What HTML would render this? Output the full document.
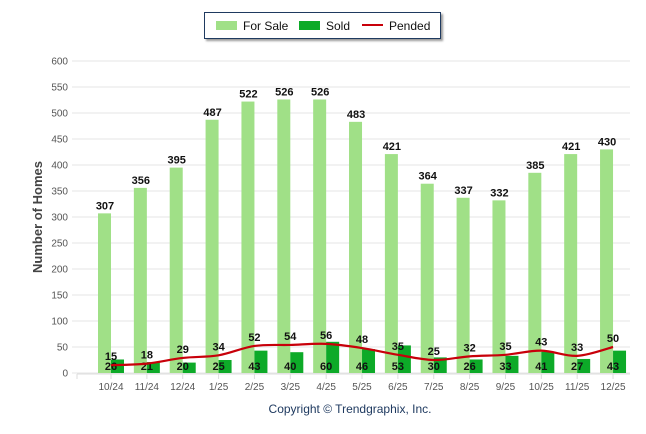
<!DOCTYPE html>
<html><head><meta charset="utf-8"><style>
body{margin:0;background:#fff;width:646px;height:434px;overflow:hidden;font-family:"Liberation Sans",Arial,sans-serif}
</style></head><body>
<svg id="c" width="646" height="434" style="position:absolute;left:0;top:0"></svg>
<script>
const categories=["10/24","11/24","12/24","1/25","2/25","3/25","4/25","5/25","6/25","7/25","8/25","9/25","10/25","11/25","12/25"];
const forSale=[307,356,395,487,522,526,526,483,421,364,337,332,385,421,430];
const sold=[26,21,20,25,43,40,60,46,53,30,26,33,41,27,43];
const pended=[15,18,29,34,52,54,56,48,35,25,32,35,43,33,50];
const yTicks=[0,50,100,150,200,250,300,350,400,450,500,550,600];
const NS="http://www.w3.org/2000/svg";
const svg=document.getElementById('c');
function y(v){return 373-v*0.52;}
function x(i){return 111+i*35.86;}
function mk(t,a,p){const e=document.createElementNS(NS,t);for(const k in a)e.setAttribute(k,a[k]);(p||svg).appendChild(e);return e;}
yTicks.forEach(v=>{
 const g=mk('line',{x1:72,x2:630,y1:y(v),y2:y(v),stroke:'#e6e6e6','stroke-width':1});
 
 
 const t=mk('text',{x:68,y:y(v)+3.5,'text-anchor':'end','font-size':10,fill:'#555'});
 t.textContent=v;
 
 
});
mk('line',{x1:77,x2:630,y1:374,y2:374,stroke:'#ddd'});
const yt=mk('text',{x:0,y:0,transform:'translate(42,217) rotate(-90)','text-anchor':'middle','font-size':13,'font-weight':'bold',fill:'#444'});
yt.textContent='Number of Homes';


categories.forEach((c,i)=>{
 const cx=x(i);
 const b=mk('rect',{x:cx-13,y:y(forSale[i]),width:13,height:373-y(forSale[i]),fill:'#a0e087'});
 
 
 const s=mk('rect',{x:cx,y:y(sold[i]),width:13,height:373-y(sold[i]),fill:'#0daa28'});
 
 
 const t=mk('text',{x:cx-6,y:y(forSale[i])-4,'text-anchor':'middle','font-size':11,'font-weight':'bold',fill:'#111'});
 t.textContent=forSale[i];
 
 
 const t2=mk('text',{x:cx,y:370,'text-anchor':'middle','font-size':11,'font-weight':'bold',fill:'#111'});
 t2.textContent=sold[i];
 
 
 const l=mk('text',{x:cx,y:390,'text-anchor':'middle','font-size':10,fill:'#555'});
 l.textContent=c;
 
 
 mk('line',{x1:cx,x2:cx,y1:374,y2:379,stroke:'#ddd'});
});
mk('line',{x1:77,x2:77,y1:374,y2:379,stroke:'#ddd'});
let d='';
const pts=pended.map((v,i)=>[x(i),y(v)]);
pts.forEach((p,i)=>{
 if(i===0){d='M'+p[0]+','+p[1];return;}
 const p0=pts[i-1],pm=pts[i-2]||p0,pn=pts[i+1]||p;
 const c1=[p0[0]+(p[0]-pm[0])/6,p0[1]+(p[1]-pm[1])/6],c2=[p[0]-(pn[0]-p0[0])/6,p[1]-(pn[1]-p0[1])/6];
 d+=' C'+c1+' '+c2+' '+p;
});
const pl=mk('path',{d:d,fill:'none',stroke:'#c8000a','stroke-width':2.2});


pended.forEach((v,i)=>{
 const t=mk('text',{x:x(i),y:y(v)-5,'text-anchor':'middle','font-size':11,'font-weight':'bold',fill:'#111'});
 t.textContent=v;
 
 
});
</script>
<div style="position:absolute;left:204px;top:12px;width:235px;height:25px;border:1px solid #1f3a60;box-shadow:2px 2px 2px #999;font-size:12px;color:#111;background:#fff">
 <span style="position:absolute;left:11px;top:6px"><span style="display:inline-block;width:21px;height:9px;background:#a0e087;margin-right:6px"></span>For Sale</span>
 <span style="position:absolute;left:94px;top:6px"><span style="display:inline-block;width:21px;height:9px;background:#0daa28;margin-right:6px"></span>Sold</span>
 <span style="position:absolute;left:157px;top:6px"><span style="display:inline-block;width:21px;height:2px;background:#c8000a;margin-right:6px;vertical-align:4px"></span>Pended</span>
</div>
<div style="position:absolute;left:0;width:700px;top:402px;text-align:center;font-size:12px;color:#1f3a60">Copyright © Trendgraphix, Inc.</div>
</body></html>
